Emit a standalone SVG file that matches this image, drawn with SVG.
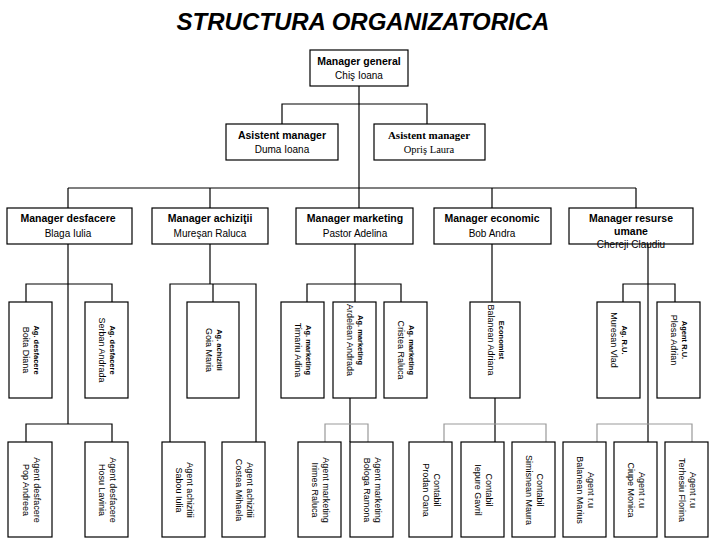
<svg xmlns="http://www.w3.org/2000/svg" width="728" height="546" viewBox="0 0 728 546">
<style>
.b{fill:#fff;stroke:#000;stroke-width:1.2}
text{font-family:"Liberation Sans",Arial,sans-serif;fill:#000;text-anchor:middle}
.h{font-size:10.5px;font-weight:bold}
.n{font-size:10px}
.s{font-size:7.5px;font-weight:bold}
.r{font-size:9px}
.c line,.c polyline{stroke:#000;stroke-width:1.2;fill:none}
.c .g{stroke:#999}
</style>
<rect width="728" height="546" fill="#fff"/>
<text x="363" y="30" style="font-size:24px;font-weight:bold;font-style:italic">STRUCTURA ORGANIZATORICA</text>
<g class="c">
<line x1="359" y1="86" x2="359" y2="208"/>
<polyline points="282,124 282,104 427,104 427,124"/>
<line x1="68" y1="188" x2="636" y2="188"/>
<line x1="68" y1="188" x2="68" y2="208"/><line x1="210" y1="188" x2="210" y2="208"/><line x1="492" y1="188" x2="492" y2="208"/><line x1="636" y1="188" x2="636" y2="208"/>
<line x1="68" y1="244" x2="68" y2="424"/>
<polyline points="26,302 26,284 112,284 112,302"/>
<polyline points="26,442 26,424 112,424 112,442"/>
<line x1="210" y1="244" x2="210" y2="284"/>
<polyline points="170,442 170,284 256,284 256,442"/>
<line x1="213" y1="284" x2="213" y2="302"/>
<line x1="355" y1="244" x2="355" y2="302"/>
<polyline points="307,302 307,284 401,284 401,302"/>
<line x1="350" y1="398" x2="350" y2="442"/>
<polyline class="g" points="325,442 325,424 368,424 368,442"/>
<line x1="492" y1="244" x2="492" y2="302"/>
<line x1="495" y1="398" x2="495" y2="442"/>
<polyline class="g" points="444,442 444,424 546,424 546,442"/>
<line x1="648" y1="244" x2="648" y2="442"/>
<polyline points="623,302 623,284 675,284 675,302"/>
<polyline class="g" points="597,442 597,424 692,424 692,442"/>
</g>
<g id="mg"><rect class="b" x="310" y="50" width="98" height="36"/><text class="h" x="359" y="65">Manager general</text><text class="n" x="359" y="79">Chiş Ioana</text></g>
<g id="am1"><rect class="b" x="226" y="124" width="112" height="36"/><text class="h" x="282" y="139">Asistent manager</text><text class="n" x="282" y="153">Duma Ioana</text></g>
<g id="am2"><rect class="b" x="374" y="124" width="111" height="36"/><text x="429" y="139" style="font-family:'Liberation Serif',serif;font-size:11px;font-weight:bold">Asistent manager</text><text x="429" y="153" style="font-family:'Liberation Serif',serif;font-size:10.5px">Opriş Laura</text></g>
<g id="md"><rect class="b" x="7" y="208" width="125" height="36"/><text class="h" x="68" y="222">Manager desfacere</text><text class="n" x="68" y="237">Blaga Iulia</text></g>
<g id="ma"><rect class="b" x="152" y="208" width="116" height="36"/><text class="h" x="210" y="222">Manager achiziţii</text><text class="n" x="210" y="237">Mureşan Raluca</text></g>
<g id="mm"><rect class="b" x="296" y="208" width="117" height="36"/><text class="h" x="355" y="222">Manager marketing</text><text class="n" x="355" y="237">Pastor Adelina</text></g>
<g id="me"><rect class="b" x="434" y="208" width="117" height="36"/><text class="h" x="492" y="222">Manager economic</text><text class="n" x="492" y="237">Bob Andra</text></g>
<g id="mr"><rect class="b" x="569" y="208" width="124" height="36"/><text class="h" x="631" y="222">Manager resurse</text><text class="h" x="631" y="235">umane</text><text class="n" x="631" y="248">Chereji Claudiu</text></g>

<g id="t1"><rect class="b" x="9" y="302" width="43" height="96"/><g transform="translate(30,350) rotate(90)"><text class="s" y="-4">Ag. desfacere</text><text class="r" y="7">Boita Diana</text></g></g>
<g id="t2"><rect class="b" x="85" y="302" width="43" height="96"/><g transform="translate(106,350) rotate(90)"><text class="s" y="-4">Ag. desfacere</text><text class="r" y="7">Serban Andrada</text></g></g>
<g id="t3"><rect class="b" x="187" y="302" width="52" height="96"/><g transform="translate(213,350) rotate(90)"><text class="s" y="-4">Ag. achizitii</text><text class="r" y="7">Goia Maria</text></g></g>
<g id="t4"><rect class="b" x="281" y="302" width="43" height="96"/><g transform="translate(302,350) rotate(90)"><text class="s" y="-4">Ag. marketing</text><text class="r" y="7">Timariu Adina</text></g></g>
<g id="t5"><rect class="b" x="333" y="302" width="43" height="96"/><g transform="translate(354,340) rotate(90)"><text class="s" y="-4">Ag. marketing</text><text class="r" y="7">Ardelean Andrada</text></g></g>
<g id="t6"><rect class="b" x="384" y="302" width="43" height="96"/><g transform="translate(405,350) rotate(90)"><text class="s" y="-4">Ag. marketing</text><text class="r" y="7">Cristea Raluca</text></g></g>
<g id="t7"><rect class="b" x="470" y="302" width="50" height="96"/><g transform="translate(495,340) rotate(90)"><text class="s" y="-4">Economist</text><text class="r" y="7">Balanean Adriana</text></g></g>
<g id="t8"><rect class="b" x="597" y="302" width="43" height="96"/><g transform="translate(618,340) rotate(90)"><text class="s" y="-4">Ag. R.U.</text><text class="r" y="7">Muresan Vlad</text></g></g>
<g id="t9"><rect class="b" x="657" y="302" width="43" height="96"/><g transform="translate(678,340) rotate(90)"><text class="s" y="-4">Agent R.U.</text><text class="r" y="7">Plesa Adrian</text></g></g>

<g id="b1"><rect class="b" x="8" y="442" width="44" height="95"/><g transform="translate(30,490) rotate(90)"><text class="r" y="-4">Agent desfacere</text><text class="r" y="7">Pop Andreea</text></g></g>
<g id="b2"><rect class="b" x="85" y="442" width="43" height="95"/><g transform="translate(106,490) rotate(90)"><text class="r" y="-4">Agent desfacere</text><text class="r" y="7">Hosu Lavinia</text></g></g>
<g id="b3"><rect class="b" x="162" y="442" width="43" height="95"/><g transform="translate(183,490) rotate(90)"><text class="r" y="-4">Agent achizitii</text><text class="r" y="7">Sabou Iulia</text></g></g>
<g id="b4"><rect class="b" x="222" y="442" width="43" height="95"/><g transform="translate(243,490) rotate(90)"><text class="r" y="-4">Agent achizitii</text><text class="r" y="7">Costea Mihaela</text></g></g>
<g id="b5"><rect class="b" x="298" y="442" width="43" height="95"/><g transform="translate(319,490) rotate(90)"><text class="r" y="-4">Agent marketing</text><text class="r" y="7">Irimes Raluca</text></g></g>
<g id="b6"><rect class="b" x="350" y="442" width="43" height="95"/><g transform="translate(371,490) rotate(90)"><text class="r" y="-4">Agent marketing</text><text class="r" y="7">Bologa Ramona</text></g></g>
<g id="b7"><rect class="b" x="409" y="442" width="43" height="95"/><g transform="translate(430,490) rotate(90)"><text class="r" y="-4">Contabil</text><text class="r" y="7">Prodan Oana</text></g></g>
<g id="b8"><rect class="b" x="461" y="442" width="43" height="95"/><g transform="translate(482,490) rotate(90)"><text class="r" y="-4">Contabil</text><text class="r" y="7">Iepure Gavril</text></g></g>
<g id="b9"><rect class="b" x="512" y="442" width="43" height="95"/><g transform="translate(533,490) rotate(90)"><text class="r" y="-4">Contabil</text><text class="r" y="7">Simisnean  Maura</text></g></g>
<g id="b10"><rect class="b" x="563" y="442" width="43" height="95"/><g transform="translate(584,490) rotate(90)"><text class="r" y="-4">Agent r.u</text><text class="r" y="7">Balanean Marius</text></g></g>
<g id="b11"><rect class="b" x="614" y="442" width="43" height="95"/><g transform="translate(635,490) rotate(90)"><text class="r" y="-4">Agent r.u</text><text class="r" y="7">Ciupe Monica</text></g></g>
<g id="b12"><rect class="b" x="665" y="442" width="43" height="95"/><g transform="translate(686,490) rotate(90)"><text class="r" y="-4">Agent r.u</text><text class="r" y="7">Terhesiu Florina</text></g></g>
</svg>
